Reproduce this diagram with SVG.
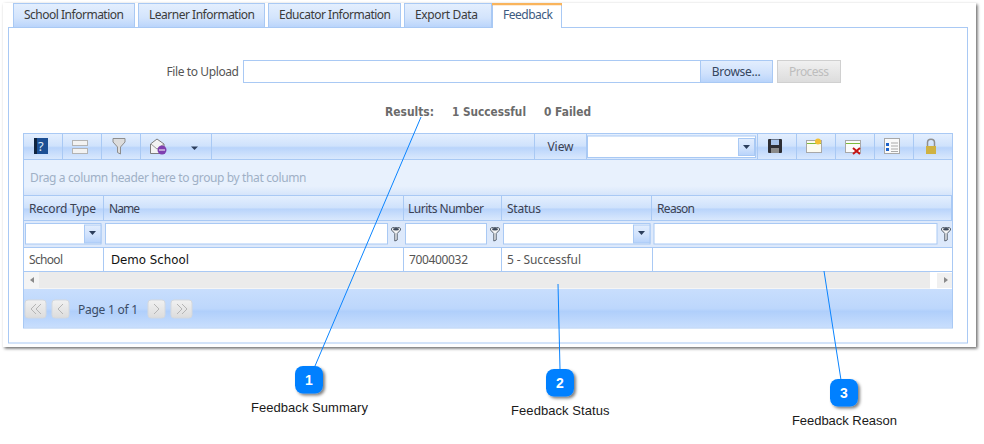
<svg xmlns="http://www.w3.org/2000/svg" width="984" height="444" viewBox="0 0 984 444">
<defs>
<linearGradient id="bar" x1="0" y1="0" x2="0" y2="1"><stop offset="0" stop-color="#e4effe"/><stop offset=".48" stop-color="#cfe2fc"/><stop offset=".55" stop-color="#b9d4fb"/><stop offset="1" stop-color="#d9e8fd"/></linearGradient>
<linearGradient id="tab" x1="0" y1="0" x2="0" y2="1"><stop offset="0" stop-color="#e4effe"/><stop offset=".6" stop-color="#d3e4fc"/><stop offset="1" stop-color="#b9d4fb"/></linearGradient>
<linearGradient id="pager" x1="0" y1="0" x2="0" y2="1"><stop offset="0" stop-color="#c8defd"/><stop offset=".5" stop-color="#bdd7fc"/><stop offset=".58" stop-color="#b0cffb"/><stop offset="1" stop-color="#c8defd"/></linearGradient>
<linearGradient id="group" x1="0" y1="0" x2="0" y2="1"><stop offset="0" stop-color="#e8f1fd"/><stop offset=".75" stop-color="#e8f1fd"/><stop offset="1" stop-color="#d6e5fb"/></linearGradient>
<linearGradient id="btn" x1="0" y1="0" x2="0" y2="1"><stop offset="0" stop-color="#e3eefe"/><stop offset=".6" stop-color="#cfe1fc"/><stop offset="1" stop-color="#b7d3fb"/></linearGradient>
<linearGradient id="gray" x1="0" y1="0" x2="0" y2="1"><stop offset="0" stop-color="#f1f1f1"/><stop offset="1" stop-color="#dcdcdc"/></linearGradient>
<filter id="win" x="-2%" y="-3%" width="104%" height="106%"><feDropShadow dx="1.5" dy="1.5" stdDeviation="1.5" flood-color="#000" flood-opacity=".6"/></filter>
<filter id="bs" x="-30%" y="-30%" width="170%" height="170%"><feDropShadow dx="2" dy="2" stdDeviation="1.5" flood-color="#000" flood-opacity=".5"/></filter>
<symbol id="funnel" width="10" height="15" viewBox="0 0 10 15"><path d="M.5 1.500C.5 0 9.500 0 9.500 1.500V3L6.200 6.500V13L3.800 14V6.500L.5 3Z" fill="#f4f4f4" stroke="#55606e"/><ellipse cx="5" cy="2.200" rx="3" ry="1.200" fill="#3e4a5c"/></symbol>
</defs>
<style>
text{font-family:"Noto Sans","Liberation Sans",sans-serif;font-size:12px;fill:#555}
.t{fill:#3b3b3b}.h{fill:#3b4152}.b{font-family:"DejaVu Sans",sans-serif;font-weight:bold;fill:#6b6b6b}
.ln{stroke:#a9c9f4;stroke-width:1}.inp{fill:#fff;stroke:#a9c9f4}.dd{fill:url(#btn);stroke:#a9c9f4}.ar{fill:#2c3e5c}
.pb{fill:url(#gray);stroke:#d4d8dd}.pa{fill:none;stroke:#b5b5b5}
.badge{fill:#0080ff;filter:url(#bs)}.bt{font-family:"Liberation Sans",sans-serif;font-size:14px;font-weight:bold;fill:#fff;text-anchor:middle}
.cap{font-family:"Liberation Sans",sans-serif;font-size:13px;fill:#1a1a1a;text-anchor:middle}
.conn{stroke:#0a84ff;stroke-width:1;fill:none}
</style>
<rect width="984" height="444" fill="#fff"/>
<g id="window">
<rect x="3" y="3" width="973" height="344" fill="#fff" filter="url(#win)"/>
<rect x="8.500" y="27.500" width="959" height="315.500" fill="#fff" stroke="#a9c9f4"/>
</g>
<g id="tabs">
<g id="tab-school"><rect x="13.500" y="3.500" width="121" height="24" fill="url(#tab)" stroke="#a9c9f4"/><text class="t" x="24" y="19" textLength="100">School Information</text></g>
<g id="tab-learner"><rect x="138.500" y="3.500" width="126" height="24" fill="url(#tab)" stroke="#a9c9f4"/><text class="t" x="149" y="19" textLength="106">Learner Information</text></g>
<g id="tab-educator"><rect x="268.500" y="3.500" width="132" height="24" fill="url(#tab)" stroke="#a9c9f4"/><text class="t" x="279" y="19" textLength="112">Educator Information</text></g>
<g id="tab-export"><rect x="404.500" y="3.500" width="87" height="24" fill="url(#tab)" stroke="#a9c9f4"/><text class="t" x="415" y="19" textLength="63">Export Data</text></g>
<g id="tab-feedback"><path d="M492.500 4V27.500M561.500 4V27.500" class="ln"/><rect x="492" y="3" width="70" height="2.500" fill="#f9b45c"/><rect x="493" y="5.500" width="68" height="23" fill="#fff"/><text x="503" y="19" textLength="50" style="fill:#3d5a80">Feedback</text></g>
</g>
<g id="upload">
<text x="166.500" y="76" textLength="72.500">File to Upload</text>
<rect class="inp" x="243.500" y="60.500" width="457" height="22"/>
<rect x="700.500" y="60.500" width="72" height="22" fill="url(#btn)" stroke="#a9c9f4"/>
<text x="711.700" y="76" textLength="49" style="fill:#34465f">Browse...</text>
<rect x="777.500" y="60.500" width="63" height="22" fill="url(#gray)" stroke="#d0d0d0"/>
<text x="789" y="76" textLength="40" style="fill:#bdbdbd">Process</text>
</g>
<g id="results">
<text class="b" x="385" y="116" textLength="49" lengthAdjust="spacingAndGlyphs">Results:</text>
<text class="b" x="452" y="116" textLength="74" lengthAdjust="spacingAndGlyphs">1 Successful</text>
<text class="b" x="544" y="116" textLength="47" lengthAdjust="spacingAndGlyphs">0 Failed</text>
</g>
<g id="grid">
<rect x="23.500" y="133.500" width="929" height="194.500" fill="#fff"/>
<g id="toolbar">
<rect x="24" y="134" width="928" height="25" fill="url(#bar)"/>
<path class="ln" d="M23.500 159.500H952.500M62.500 134V159M101.500 134V159M140.500 134V159M211.500 134V159M534.500 134V159M586.500 134V159M757.500 134V159M796.500 134V159M835.500 134V159M874.500 134V159M913.500 134V159"/>
<rect x="34" y="138" width="14" height="16" fill="#1c4f94"/><rect x="34" y="138" width="3" height="16" fill="#0f2440"/>
<text x="38" y="151" style="font-size:13px;fill:#dfeaf8">?</text>
<g fill="#f2f2f2" stroke="#b3b3b3"><rect x="72.500" y="140.500" width="15" height="5"/><rect x="72.500" y="148.500" width="15" height="5"/></g>
<path d="M113 138.500H125V142L120.500 147V154L117.500 152.500V147L113 142Z" fill="#dcdcdc" stroke="#8d8d8d"/>
<path d="M150.500 144L157 139L164 144V153.500H150.500Z" fill="#f3f3f3" stroke="#7d7d7d"/><path d="M151 144L157 149L164 144" fill="none" stroke="#9a9a9a"/><circle cx="162" cy="150" r="4.500" fill="#7e3fb0"/><path d="M159 150H165" stroke="#fff"/>
<path class="ar" d="M191 146.500H198L194.500 150Z"/>
<text class="h" x="547.500" y="151" textLength="26">View</text>
<rect class="inp" x="587.500" y="136" width="168" height="21.500"/>
<rect class="dd" x="738.500" y="138.500" width="16" height="17"/><path class="ar" d="M743 145H750L746.500 149Z"/>
<rect x="768" y="139" width="14" height="14" rx="1" fill="#2d2d33"/><rect x="771" y="139.500" width="8" height="5.500" fill="#a9c4ea"/><rect x="771" y="148" width="8" height="5" fill="#8a8a8a"/>
<rect x="806.500" y="140.500" width="15" height="12" fill="#fbfbf2" stroke="#a8a8a8"/><path d="M807 143.500H821" stroke="#7dbb3a"/><circle cx="818" cy="141.500" r="3" fill="#f2c033"/>
<rect x="845.500" y="140.500" width="15" height="12" fill="#fbfbfb" stroke="#a8a8a8"/><path d="M846 143.500H860" stroke="#7dbb3a"/><path d="M853 148L860 154M860 148L853 154" stroke="#c51515" stroke-width="2"/>
<rect x="884.500" y="138.500" width="15" height="15" fill="#fafafa" stroke="#a8a8a8"/><rect x="886" y="143" width="3" height="3" fill="#1f63c9"/><rect x="886" y="148" width="3" height="3" fill="#1f63c9"/><path d="M891 143H898M891 146H898M891 149H898M891 151.500H898" stroke="#aaa"/>
<path d="M927.500 146V142.500C927.500 138 934.500 138 934.500 142.500V146" fill="none" stroke="#8f8f8f" stroke-width="1.500"/><rect x="926" y="146" width="10" height="8" fill="#cfb243"/>
</g>
<g id="group-area">
<rect x="24" y="160" width="928" height="35" fill="url(#group)"/>
<path class="ln" d="M23.500 195.500H952.500"/>
<text x="30" y="182" textLength="276.500" style="fill:#9fb0c6">Drag a column header here to group by that column</text>
</g>
<g id="header">
<rect x="24" y="196" width="928" height="24" fill="url(#bar)"/>
<path class="ln" d="M23.500 220.500H952.500M103.500 196V220M403.500 196V220M501.500 196V220M651.500 196V220M951.500 196V220"/>
<text class="h" x="29" y="213" textLength="67">Record Type</text>
<text class="h" x="109" y="213" textLength="31">Name</text>
<text class="h" x="408" y="213" textLength="76">Lurits Number</text>
<text class="h" x="507" y="213" textLength="34">Status</text>
<text class="h" x="657" y="213" textLength="38">Reason</text>
</g>
<g id="filter-row">
<rect x="24" y="221" width="928" height="26.500" fill="#dde9fb"/>
<rect class="inp" x="25.500" y="223.500" width="75.500" height="20.500"/>
<rect class="dd" x="84.500" y="225" width="16.500" height="18"/><path class="ar" d="M89 231H96L92.500 235Z"/>
<rect class="inp" x="105.500" y="223.500" width="282" height="20.500"/>
<use href="#funnel" x="391" y="227"/>
<rect class="inp" x="405.500" y="223.500" width="81" height="20.500"/>
<use href="#funnel" x="490" y="227"/>
<rect class="inp" x="503.500" y="223.500" width="146.500" height="20.500"/>
<rect class="dd" x="633.500" y="225" width="16.500" height="18"/><path class="ar" d="M638 231H645L641.500 235Z"/>
<rect class="inp" x="654" y="223.500" width="283" height="20.500"/>
<use href="#funnel" x="941" y="227"/>
</g>
<g id="data-row">
<rect x="24" y="248" width="928" height="23.500" fill="#fff"/>
<path class="ln" d="M23.500 247.500H952.500M23.500 271.500H952.500M103.500 248V271M403.500 248V271M501.500 248V271M652.500 248V271"/>
<text x="29" y="264" textLength="34">School</text>
<text x="111" y="264" textLength="78" lengthAdjust="spacingAndGlyphs" style="font-family:'DejaVu Sans',sans-serif;fill:#111">Demo School</text>
<text x="409" y="264" textLength="59">700400032</text>
<text x="507" y="264" textLength="74">5 - Successful</text>
</g>
<g id="scrollbar">
<rect x="24" y="272" width="928" height="17" fill="#fff"/>
<rect x="24" y="272" width="15" height="17" fill="#f4f4f4"/>
<rect x="39" y="272" width="891" height="16.500" fill="#ebebeb"/>
<rect x="937" y="273" width="15" height="15" fill="#f0f0f0"/>
<path d="M34 277V283L30 280Z" fill="#8a8a8a"/><path d="M944 277V283L948 280Z" fill="#8a8a8a"/>
</g>
<g id="pager">
<rect x="24" y="289" width="928" height="38.500" fill="url(#pager)"/>
<rect class="pb" x="25" y="300" width="21" height="18" rx="3"/><path class="pa" d="M36 304L31 309L36 314M41 304L36 309L41 314"/>
<rect class="pb" x="52" y="300" width="17" height="18" rx="3"/><path class="pa" d="M63 304L58 309L63 314"/>
<text x="78" y="314" textLength="60" style="fill:#3b4c66">Page 1 of 1</text>
<rect class="pb" x="148" y="300" width="17" height="18" rx="3"/><path class="pa" d="M154 304L159 309L154 314"/>
<rect class="pb" x="171" y="300" width="21" height="18" rx="3"/><path class="pa" d="M177 304L182 309L177 314M182 304L187 309L182 314"/>
</g>
<rect x="23.500" y="133.500" width="929" height="194.500" fill="none" stroke="#a9c9f4"/>
</g>
<g id="connectors">
<path class="conn" d="M421 117L315 366"/>
<path class="conn" d="M558 284L560 369"/>
<path class="conn" d="M824 271L841 380"/>
</g>
<g id="callout-1"><rect class="badge" x="295" y="366" width="28" height="27.500" rx="8"/><text class="bt" x="309" y="385">1</text><text class="cap" x="309.500" y="412" textLength="117">Feedback Summary</text></g>
<g id="callout-2"><rect class="badge" x="546" y="369" width="28" height="27.500" rx="8"/><text class="bt" x="560" y="388">2</text><text class="cap" x="560.300" y="415" textLength="98.500">Feedback Status</text></g>
<g id="callout-3"><rect class="badge" x="830" y="379" width="28" height="27.500" rx="8"/><text class="bt" x="844" y="398">3</text><text class="cap" x="844.400" y="425" textLength="105">Feedback Reason</text></g>
</svg>
